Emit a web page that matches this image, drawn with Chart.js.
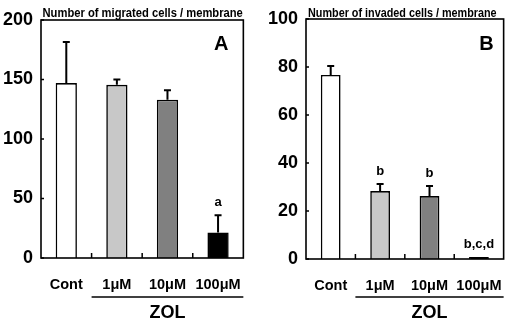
<!DOCTYPE html>
<html>
<head>
<meta charset="utf-8">
<script src="https://cdn.jsdelivr.net/npm/chart.js@4.4.1/dist/chart.umd.min.js"></script>
<style>
  html, body { margin:0; padding:0; background:#fff; }
  #wrap { position:relative; width:520px; height:323px; }
  #cA { position:absolute; left:0; top:0; }
  #cB { position:absolute; left:260px; top:0; }
</style>
</head>
<body>
<div id="wrap">
  <canvas id="cA" width="260" height="323"></canvas>
  <canvas id="cB" width="260" height="323"></canvas>
</div>
<script>
// ---- data ----
const categories = ["Cont", "1\u03bcM", "10\u03bcM", "100\u03bcM"];
const migratedMean = [147, 145.5, 133, 21.5];
const migratedErr  = [34.5, 4.5, 8, 14.5];
const migratedMarks = ["", "", "", "a"];
const invadedMean = [76.7, 28.3, 26.2, 0.8];
const invadedErr  = [3.7, 2.9, 4.2, 0];
const invadedMarks = ["", "b", "b", "b,c,d"];
const migratedTicks = [0, 50, 100, 150, 200];
const invadedTicks = [0, 20, 40, 60, 80, 100];
const groupLabel = "ZOL";
const titleA = "Number of migrated cells / membrane";
const titleB = "Number of invaded cells / membrane";

const barColors = ["#ffffff", "#c8c8c8", "#808080", "#000000"];
const FONT = "'Liberation Sans', Arial, Helvetica, sans-serif";

const overlay = {
  id: 'overlay',
  afterDatasetsDraw(chart, args, o) {
    const ctx = chart.ctx;
    const ca = chart.chartArea;
    const x = chart.scales.x, y = chart.scales.y;
    ctx.save();
    ctx.strokeStyle = '#000';
    ctx.fillStyle = '#000';
    // error bars
    ctx.lineWidth = 2;
    const meta = chart.getDatasetMeta(0);
    o.mean.forEach((v, i) => {
      const e = o.err[i];
      const px = meta.data[i].x;
      if (e > 0) {
        const y0 = y.getPixelForValue(v), y1 = y.getPixelForValue(v + e);
        ctx.beginPath();
        ctx.moveTo(px, y0); ctx.lineTo(px, y1);
        ctx.moveTo(px - 3.5, y1); ctx.lineTo(px + 3.5, y1);
        ctx.stroke();
      }
      if (o.marks[i]) {
        ctx.font = "bold 13px " + FONT;
        ctx.textAlign = 'center';
        ctx.textBaseline = 'middle';
        ctx.fillText(o.marks[i], px, y.getPixelForValue(v + e) - 13);
      }
    });
    // box
    ctx.lineWidth = 1.6;
    ctx.strokeRect(ca.left, ca.top, ca.right - ca.left, ca.bottom - ca.top);
    // inward ticks: x at category boundaries, y at tick values
    ctx.lineWidth = 1.5;
    ctx.beginPath();
    for (let i = 0; i < categories.length - 1; i++) {
      const bx = (x.getPixelForTick(i) + x.getPixelForTick(i + 1)) / 2;
      ctx.moveTo(bx, ca.bottom); ctx.lineTo(bx, ca.bottom - 5);
    }
    o.yticks.forEach(t => {
      const py = y.getPixelForValue(t);
      ctx.moveTo(ca.left, py); ctx.lineTo(ca.left + 3, py);
    });
    ctx.stroke();
    // title (condensed)
    ctx.font = "bold 13px " + FONT;
    ctx.textAlign = 'center';
    ctx.textBaseline = 'middle';
    const tw = ctx.measureText(o.title).width;
    const sx = (ca.right - ca.left - o.titleInset) / tw;
    ctx.save();
    ctx.translate((ca.left + ca.right) / 2 + o.titleShift, 13);
    ctx.scale(sx, 1);
    ctx.fillText(o.title, 0, 0);
    ctx.restore();
    // panel letter
    ctx.font = "bold 20px " + FONT;
    ctx.textAlign = 'right';
    ctx.fillText(o.letter, ca.right - o.letterRight, 44);
    // group line and label
    const gx0 = (x.getPixelForTick(0) + x.getPixelForTick(1)) / 2;
    ctx.lineWidth = 1.5;
    ctx.beginPath();
    ctx.moveTo(gx0, 297); ctx.lineTo(ca.right, 297);
    ctx.stroke();
    ctx.font = "bold 18px " + FONT;
    ctx.textAlign = 'center';
    ctx.fillText(groupLabel, x.getPixelForTick(2), 313);
    ctx.restore();
  }
};

function makeChart(id, mean, err, marks, yticks, ymax, title, letter, opts) {
  return new Chart(document.getElementById(id), {
    type: 'bar',
    data: {
      labels: categories,
      datasets: [{
        data: mean,
        backgroundColor: barColors,
        borderColor: '#000',
        borderWidth: 1.6,
        barPercentage: opts.barPct,
        categoryPercentage: 1.0
      }]
    },
    plugins: [overlay],
    options: {
      responsive: false,
      animation: false,
      layout: { padding: { left: 0, right: opts.right, top: opts.top, bottom: 0 } },
      plugins: {
        legend: { display: false },
        tooltip: { enabled: false },
        title: { display: false },
        overlay: { mean, err, marks, yticks, title, letter,
                   titleShift: opts.titleShift, titleInset: opts.titleInset, letterRight: opts.letterRight }
      },
      scales: {
        x: {
          offset: true,
          grid: { display: false, drawTicks: false },
          border: { display: false },
          ticks: { color: '#000', font: { family: FONT, size: 14.5, weight: 'bold' }, padding: 18, maxRotation: 0, autoSkip: false },
          afterFit: s => { s.height = opts.xh; }
        },
        y: {
          min: 0, max: ymax,
          afterBuildTicks: s => { s.ticks = yticks.map(v => ({ value: v })); },
          grid: { display: false, drawTicks: false },
          border: { display: false },
          ticks: { color: '#000', font: { family: FONT, size: 18, weight: 'bold' }, padding: 8 },
          afterFit: s => { s.width = opts.yw; }
        }
      }
    }
  });
}

makeChart('cA', migratedMean, migratedErr, migratedMarks, migratedTicks, 200, titleA, 'A',
  { barPct: 0.42, right: 11, top: 20, xh: 65, yw: 41, titleShift: 0.5, titleInset: 2, letterRight: 15 });
makeChart('cB', invadedMean, invadedErr, invadedMarks, invadedTicks, 100, titleB, 'B',
  { barPct: 0.40, right: 4, top: 19, xh: 64, yw: 46, titleShift: -2.5, titleInset: 9, letterRight: 10 });
</script>
</body>
</html>
